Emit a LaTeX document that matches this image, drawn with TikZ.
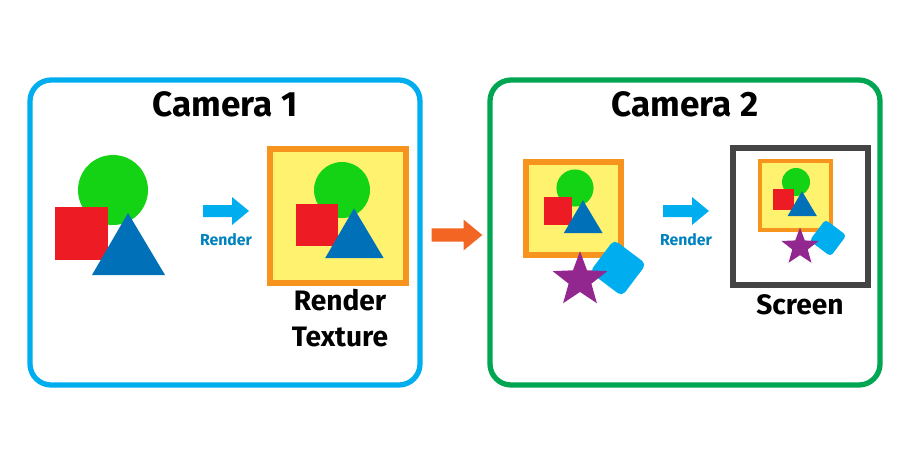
\documentclass[tikz,border=0pt]{standalone}
\usepackage{fontspec}
\setmainfont{Fira Sans}
\usetikzlibrary{shapes.geometric}
\definecolor{camblue}{RGB}{0,174,239}
\definecolor{camgreen}{RGB}{0,166,81}
\definecolor{shgreen}{RGB}{20,210,20}
\definecolor{shred}{RGB}{237,28,36}
\definecolor{shblue}{RGB}{0,112,185}
\definecolor{rtorange}{RGB}{247,148,29}
\definecolor{rtyellow}{RGB}{255,242,110}
\definecolor{shpurple}{RGB}{146,39,143}
\definecolor{scrgray}{RGB}{68,68,68}
\definecolor{txtblue}{RGB}{0,130,190}
\definecolor{arrorange}{RGB}{242,101,34}
\tikzset{
  cambox/.style={line width=3pt,rounded corners=12pt},
  title/.style={font=\bfseries\fontsize{20}{20}\selectfont},
  label/.style={font=\bfseries\fontsize{16}{20}\selectfont,align=center},
  rtex/.style={draw=rtorange,fill=rtyellow,line width=3.2pt},
  rendertxt/.style={font=\bfseries\fontsize{9}{9}\selectfont,text=txtblue}
}
\newcommand{\scene}[3]{% x, y of circle center, scale
  \begin{scope}[shift={(#1,#2)},scale=#3]
    \fill[shgreen] (0,0) circle (35);
    \fill[shred] (-58,17) rectangle (-5,70);
    \fill[shblue] (15,23) -- (52,85) -- (-21,85) -- cycle;
  \end{scope}}
\newcommand{\fatarrow}[4]{% x, y of center, scale, colour
  \fill[#4,shift={(#1,#2)},scale=#3] (-23,-6) -- (6,-6) -- (6,-14) -- (23,0)
    -- (6,14) -- (6,6) -- (-23,6) -- cycle;}
\begin{document}
\begin{tikzpicture}[x=0.02cm,y=-0.02cm]
\useasboundingbox (0,0) rectangle (912,456);
% camera 1
\draw[cambox,camblue] (30,80) rectangle (420,385);
\node[title] (cam1) at (225,104) {Camera 1};
\scene{113}{190}{1}
\fatarrow{226}{211}{1}{camblue}
\node[rendertxt] (r1) at (226,240) {Render};
\draw[rtex] (270,149) rectangle (406,283);
\scene{342}{190}{0.8}
\node[label] (rt) at (340,318) {Render\\Texture};
% middle arrow
\fatarrow{457}{235}{1.1}{arrorange}
% camera 2
\draw[cambox,camgreen] (490,80) rectangle (880,385);
\node[title] (cam2) at (685,104) {Camera 2};
\draw[rtex] (526,162) rectangle (621,255);
\scene{575}{188}{0.53}
\node[diamond,fill=camblue,rounded corners=3pt,minimum size=1.15cm,rotate=8] (dia1) at (618,268) {};
\node[star,star points=5,star point ratio=2.4,fill=shpurple,minimum size=1.15cm,inner sep=0pt] (star1) at (580,280) {};
\fatarrow{686}{211}{1}{camblue}
\node[rendertxt] (r2) at (686,240) {Render};
\draw[scrgray,line width=3.4pt] (733,148) rectangle (868,285);
\draw[rtex,line width=2.2pt] (760,161) rectangle (831,230);
\scene{796}{182}{0.4}
\node[diamond,fill=camblue,rounded corners=2pt,minimum size=0.75cm,rotate=8] (dia2) at (828,238) {};
\node[star,star points=5,star point ratio=2.4,fill=shpurple,minimum size=0.78cm,inner sep=0pt] (star2) at (800,247) {};
\node[label] (scr) at (800,305) {Screen};
\end{tikzpicture}
\end{document}
